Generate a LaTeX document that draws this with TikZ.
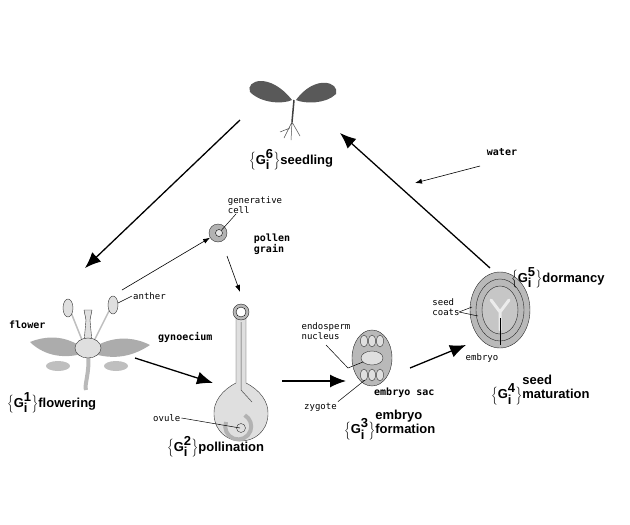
\documentclass[tikz,border=0pt]{standalone}
\usepackage{fontspec}
\setmainfont{Liberation Sans}
\newfontfamily\mono{DejaVu Sans Mono}
\usetikzlibrary{arrows.meta}
\newcommand\gl[1]{$\Bigl\{\textbf{G}^{\textbf{#1}}_{\textbf{i}}\Bigr\}$}
\begin{document}
\begin{tikzpicture}[x=1pt,y=-1pt,
 big/.style={line width=1.3pt,-{Latex[length=16pt,width=13pt]}},
 small/.style={line width=0.6pt,-{Latex[length=7pt,width=5pt]}},
 lead/.style={line width=0.5pt},
 sm/.style={font=\mono\fontsize{9}{10}\selectfont,inner sep=1pt,align=left},
 bd/.style={font=\mono\bfseries\fontsize{10}{11}\selectfont,inner sep=1pt,align=left},
 st/.style={font=\bfseries\fontsize{13}{14}\selectfont,inner sep=1pt,anchor=west,align=left},
 tissue/.style={fill=gray!55,draw=gray!30!black,line width=0.4pt},
 light/.style={fill=gray!25,draw=gray!40!black,line width=0.4pt}]
\useasboundingbox (0,0) rectangle (630,525);
% seedling
\fill[gray!70!black] (292,100) .. controls (270,72) and (245,80) .. (250,92) .. controls (262,104) and (284,104) .. (292,100);
\fill[gray!70!black] (296,100) .. controls (315,74) and (340,82) .. (336,94) .. controls (326,104) and (305,104) .. (296,100);
\draw[gray!50!black,line width=1.5pt] (294,100) -- (292,122);
\draw[gray!60!black,line width=0.5pt] (292,122) -- (284,138) (292,122)--(291,140) (292,122)--(300,136) (290,128)--(280,132);
\node[st] (g6) at (248,160) {\gl{6}seedling};
% big cycle arrows
\coordinate (a1s) at (240,120); \coordinate (a1e) at (85,268);
\draw[big] (a1s) -- (a1e);
\coordinate (a5s) at (490,268); \coordinate (a5e) at (340,133);
\draw[big] (a5s) -- (a5e);
\node[bd] (water) at (502,152) {water};
\coordinate (ws) at (480,166); \coordinate (we) at (415,183);
\draw[small] (ws) -- (we);
% pollen grain
\node[circle,draw=gray!40!black,fill=gray!60,minimum size=18pt,inner sep=0pt] (pollen) at (218,233) {};
\node[circle,draw=black,fill=gray!20,minimum size=7pt,inner sep=0pt] (gcell) at (219,233) {};
\node[sm] (gen) at (255,205) {generative\\cell};
\draw[lead] (gcell) -- (236,214);
\node[bd] (pg) at (272,244) {pollen\\grain};
% flower
\fill[gray!65] (30,342) .. controls (60,330) and (80,345) .. (88,352) .. controls (60,362) and (40,352) .. (30,342);
\fill[gray!65] (150,345) .. controls (120,330) and (95,345) .. (88,352) .. controls (115,362) and (135,355) .. (150,345);
\fill[gray!50] (58,366) ellipse (12 and 5); \fill[gray!50] (116,366) ellipse (12 and 5);
\draw[gray!55,line width=4pt] (88,355) .. controls (90,372) and (84,385) .. (86,390);
\draw[gray!50,line width=1.5pt] (84,345) -- (68,305) (92,345) -- (112,305);
\draw[light] (68,308) ellipse (5 and 9);
\draw[light] (113,305) ellipse (5 and 9);
\draw[light] (84,342) -- (86,320) -- (84,310) -- (92,310) -- (90,320) -- (92,342) -- cycle;
\draw[light] (88,348) ellipse (13 and 10);
\coordinate (anth) at (118,303);
\node[sm,anchor=west] (anther) at (132,296) {anther};
\draw[lead] (anther.west) -- (anth);
\node[bd,anchor=west] (flower) at (8,325) {flower};
\node[st] (g1) at (6,403) {\gl{1}flowering};
% arrows from flower
\coordinate (fs) at (122,290);
\draw[small] (fs) -- (pollen);
\coordinate (ps) at (227,256); \coordinate (pe) at (240,292);
\draw[small] (ps) -- (pe);
\coordinate (fgs) at (135,358); \coordinate (fge) at (213,383);
\draw[big] (fgs) -- (fge);
% gynoecium
\draw[light] (236,318) -- (236,383) .. controls (222,390) and (213,402) .. (214,415) .. controls (215,432) and (228,441) .. (241,441) .. controls (254,441) and (267,432) .. (268,415) .. controls (269,402) and (260,390) .. (246,383) -- (246,318) -- cycle;
\draw[gray!60,line width=4pt] (226,422) arc (200:-60:13);
\draw[gray!60!black,line width=0.5pt] (241,322) -- (241,390) -- (252,402);
\draw[tissue] (241,312) circle (8);
\draw[fill=white] (241,312) circle (5);
\draw[light] (241,428) circle (4.5);
\node[bd,anchor=west] (gyn) at (157,337) {gynoecium};
\node[sm,anchor=west] (ovule) at (152,418) {ovule};
\draw[lead] (ovule.east) -- (240,428);
\node[st] (g2) at (166,447) {\gl{2}pollination};
% embryo sac
\coordinate (es1) at (282,381); \coordinate (ee1) at (346,381);
\draw[big] (es1) -- (ee1);
\draw[tissue] (372,358) ellipse (20 and 28);
\draw[light] (372,358) ellipse (11 and 7);
\foreach \x in {364,372,380}{\draw[light] (\x,341) ellipse (3.5 and 6); \draw[light] (\x,375) ellipse (3.5 and 6);}
\node[sm] (endo) at (326,331) {endosperm\\nucleus};
\draw[lead] (326,345) -- (348,368) -- (363,362);
\node[sm,anchor=west] (zyg) at (303,407) {zygote};
\draw[lead] (zyg.north east) -- (365,380);
\node[bd,anchor=west] (esac) at (373,393) {embryo sac};
\node[st] (g3) at (343,425) {\gl{3}\begin{tabular}[b]{@{}l@{}}embryo\\formation\end{tabular}};
% seed
\coordinate (es2) at (410,368); \coordinate (ee2) at (466,345);
\draw[big] (es2) -- (ee2);
\draw[tissue] (500,310) ellipse (30 and 38);
\draw[fill=gray!55,draw=gray!30!black] (500,310) ellipse (24 and 31);
\draw[fill=gray!45,draw=gray!30!black] (500,310) ellipse (18 and 24);
\draw[gray!15,line width=3pt,line cap=round] (500,330) -- (500,312) -- (491,300) (500,312) -- (509,300);
\draw[black,line width=1pt] (500,318) -- (500,345);
\node[sm] (coats) at (446,307) {seed\\coats};
\draw[lead] (459,312) -- (478,316) (459,312) -- (472,307);
\node[sm] (emb) at (482,358) {embryo};
\node[st] (g5) at (510,278) {\gl{5}dormancy};
\node[st] (g4) at (490,390) {\gl{4}\begin{tabular}[b]{@{}l@{}}seed\\maturation\end{tabular}};
\end{tikzpicture}
\end{document}
